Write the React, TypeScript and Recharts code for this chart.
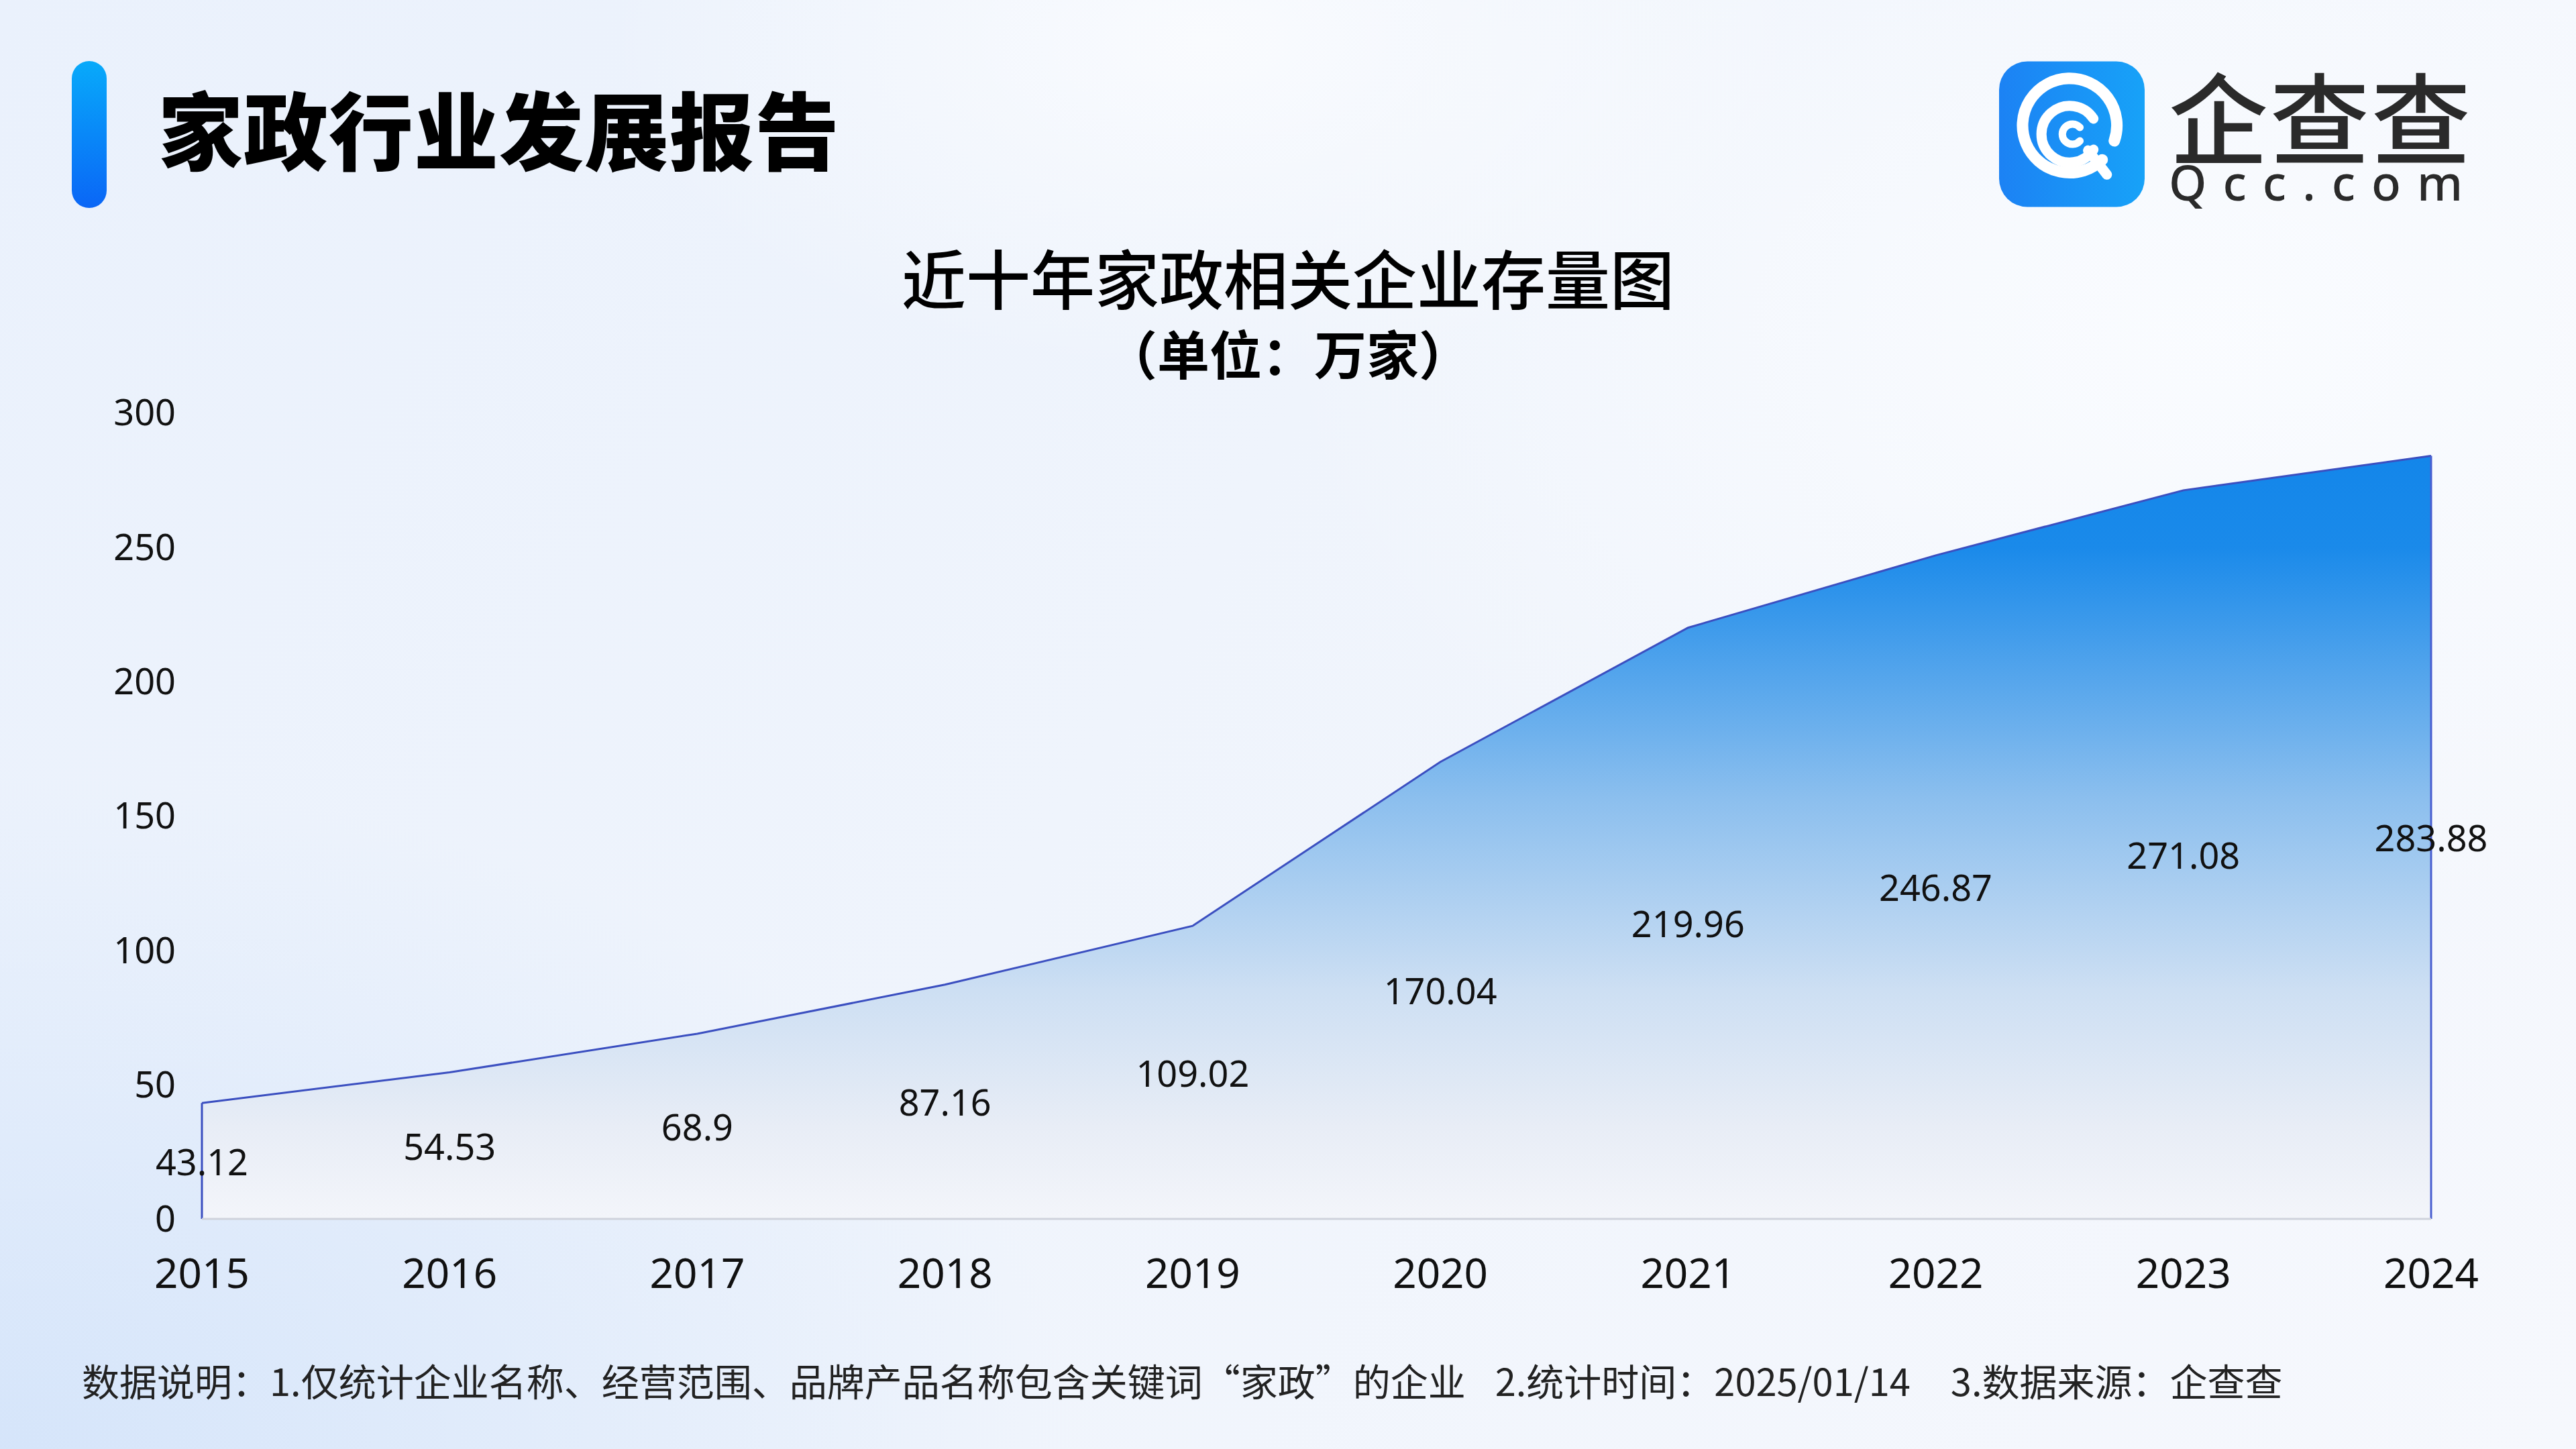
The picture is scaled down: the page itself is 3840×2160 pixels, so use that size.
import React from "react";
import { AreaChart, Area, XAxis, YAxis, LabelList, ReferenceLine } from "recharts";

const years = ["2015", "2016", "2017", "2018", "2019", "2020", "2021", "2022", "2023", "2024"];
const stock = [43.12, 54.53, 68.9, 87.16, 109.02, 170.04, 219.96, 246.87, 271.08, 283.88];
const yTicks = [0, 50, 100, 150, 200, 250, 300];
const notes = [
  "数据说明：1.仅统计企业名称、经营范围、品牌产品名称包含关键词“家政”的企业",
  "2.统计时间：2025/01/14",
  "3.数据来源：企查查",
];

const data = years.map((year, i) => ({ year, value: stock[i] }));

const W = 3840;
const H = 2160;
const margin = { top: 615, right: 216, bottom: 243, left: 0 };
const X_AXIS_H = 100;
const BASE_Y = H - margin.bottom - X_AXIS_H;

const numFont = "'Noto Sans', 'Open Sans', sans-serif";
const cjkFont = "'Noto Sans CJK SC', 'Noto Sans', sans-serif";

const MidLabel = (props: any) => {
  const { x, y, value } = props;
  if (x == null || y == null) return null;
  return (
    <text
      x={x}
      y={(y + BASE_Y) / 2}
      textAnchor="middle"
      dominantBaseline="central"
      fontFamily={numFont}
      fontSize={54}
      fill="#111"
    >
      {value}
    </text>
  );
};

const Logo = () => (
  <div style={{ position: "absolute", left: 2980, top: 91, display: "flex", alignItems: "flex-start" }}>
    <svg width={217} height={218} viewBox="0 0 216 216">
      <defs>
        <linearGradient id="logoBg" x1="0" y1="0" x2="1" y2="0">
          <stop offset="0%" stopColor="#1c82f4" />
          <stop offset="100%" stopColor="#17a2f8" />
        </linearGradient>
      </defs>
      <rect x={0} y={0} width={216} height={216} rx={42} fill="url(#logoBg)" />
      <g fill="none" stroke="#fff" strokeLinecap="round">
        <path d="M 153 146 A 70 70 0 1 1 171 118" strokeWidth={17} />
        <path d="M 140 85 A 42 42 0 1 0 140 131" strokeWidth={15} />
        <path d="M 120 98 A 15 15 0 1 0 120 118" strokeWidth={11} />
        <path d="M 132 132 L 160 168" strokeWidth={15} />
      </g>
    </svg>
    <div style={{ marginLeft: 36, marginTop: 12, display: "flex", flexDirection: "column" }}>
      <div
        style={{
          fontFamily: cjkFont,
          fontSize: 148,
          fontWeight: 500,
          color: "#2a2a2a",
          lineHeight: "134px",
          height: 134,
          letterSpacing: 3,
        }}
      >
        企查查
      </div>
      <div
        style={{
          fontFamily: numFont,
          fontSize: 72,
          fontWeight: 500,
          color: "#2a2a2a",
          lineHeight: "60px",
          height: 60,
          letterSpacing: 24,
          marginTop: 4,
        }}
      >
        Qcc.com
      </div>
    </div>
  </div>
);

export default function App() {
  return (
    <div
      style={{
        position: "absolute",
        left: 0,
        top: 0,
        width: W,
        height: H,
        overflow: "hidden",
        background:
          "radial-gradient(ellipse 900px 500px at 1800px 60px, rgba(252,253,255,0.8), rgba(252,253,255,0) 100%)," +
          "radial-gradient(ellipse 1400px 900px at 3300px 500px, rgba(250,252,255,0.95), rgba(250,252,255,0) 100%)," +
          "radial-gradient(ellipse 1600px 1000px at 0px 2160px, rgba(212,228,250,0.95), rgba(212,228,250,0) 100%)," +
          "linear-gradient(120deg, #eaf1fc 0%, #eff4fc 45%, #f6f8fd 100%)",
      }}
    >
      <div
        style={{
          position: "absolute",
          left: 107,
          top: 91,
          width: 52,
          height: 219,
          borderRadius: 26,
          background: "linear-gradient(180deg, #08aafa 0%, #0a66f6 100%)",
        }}
      />
      <div
        style={{
          position: "absolute",
          left: 236,
          top: 126,
          fontFamily: cjkFont,
          fontSize: 126,
          fontWeight: 900,
          lineHeight: "126px",
          color: "#000",
          letterSpacing: 1,
        }}
      >
        家政行业发展报告
      </div>
      <Logo />
      <div
        style={{
          position: "absolute",
          left: 0,
          width: W,
          top: 364,
          textAlign: "center",
          fontFamily: cjkFont,
          fontSize: 96,
          fontWeight: 500,
          lineHeight: "96px",
          color: "#000",
        }}
      >
        近十年家政相关企业存量图
      </div>
      <div
        style={{
          position: "absolute",
          left: 0,
          width: W,
          top: 486,
          textAlign: "center",
          fontFamily: cjkFont,
          fontSize: 78,
          fontWeight: 700,
          lineHeight: "78px",
          color: "#000",
        }}
      >
        （单位：万家）
      </div>
      <div style={{ position: "absolute", left: 0, top: 0 }}>
        <AreaChart width={W} height={H} data={data} margin={margin}>
          <defs>
            <linearGradient id="areaFill" x1="0" y1="0" x2="0" y2="1">
              <stop offset="0%" stopColor="#1386ea" stopOpacity={1} />
              <stop offset="12%" stopColor="#1a8aea" stopOpacity={1} />
              <stop offset="45%" stopColor="#8cbfee" stopOpacity={1} />
              <stop offset="70%" stopColor="#cddff3" stopOpacity={1} />
              <stop offset="88%" stopColor="#e8edf6" stopOpacity={1} />
              <stop offset="100%" stopColor="#f3f5fa" stopOpacity={1} />
            </linearGradient>
          </defs>
          <XAxis
            dataKey="year"
            height={X_AXIS_H}
            axisLine={{ stroke: "#cfd3dc", strokeWidth: 3 }}
            tickLine={false}
            tickSize={0}
            tickMargin={59}
            interval={0}
            tick={{ fontFamily: numFont, fontSize: 62, fill: "#111" }}
          />
          <YAxis
            width={301}
            domain={[0, 300]}
            ticks={yTicks}
            axisLine={false}
            tickLine={false}
            tickSize={0}
            tickMargin={39}
            tick={{ fontFamily: numFont, fontSize: 54, fill: "#111" }}
          />
          <Area
            type="linear"
            dataKey="value"
            stroke="#3b4fc0"
            strokeWidth={3}
            fill="url(#areaFill)"
            fillOpacity={1}
            isAnimationActive={false}
            dot={false}
            activeDot={false}
          >
            <LabelList dataKey="value" content={MidLabel} />
          </Area>
          <ReferenceLine
            segment={[
              { x: years[0], y: 0 },
              { x: years[0], y: stock[0] },
            ]}
            stroke="#3b4fc0"
            strokeWidth={3}
          />
          <ReferenceLine
            segment={[
              { x: years[years.length - 1], y: 0 },
              { x: years[years.length - 1], y: stock[stock.length - 1] },
            ]}
            stroke="#4a5fd0"
            strokeWidth={3}
          />
        </AreaChart>
      </div>
      <div
        style={{
          position: "absolute",
          left: 122,
          top: 2024,
          fontFamily: cjkFont,
          fontSize: 56,
          lineHeight: "66px",
          color: "#222",
          whiteSpace: "nowrap",
          display: "flex",
        }}
      >
        <span>{notes[0]}</span>
        <span style={{ marginLeft: 44 }}>{notes[1]}</span>
        <span style={{ marginLeft: 60 }}>{notes[2]}</span>
      </div>
    </div>
  );
}
